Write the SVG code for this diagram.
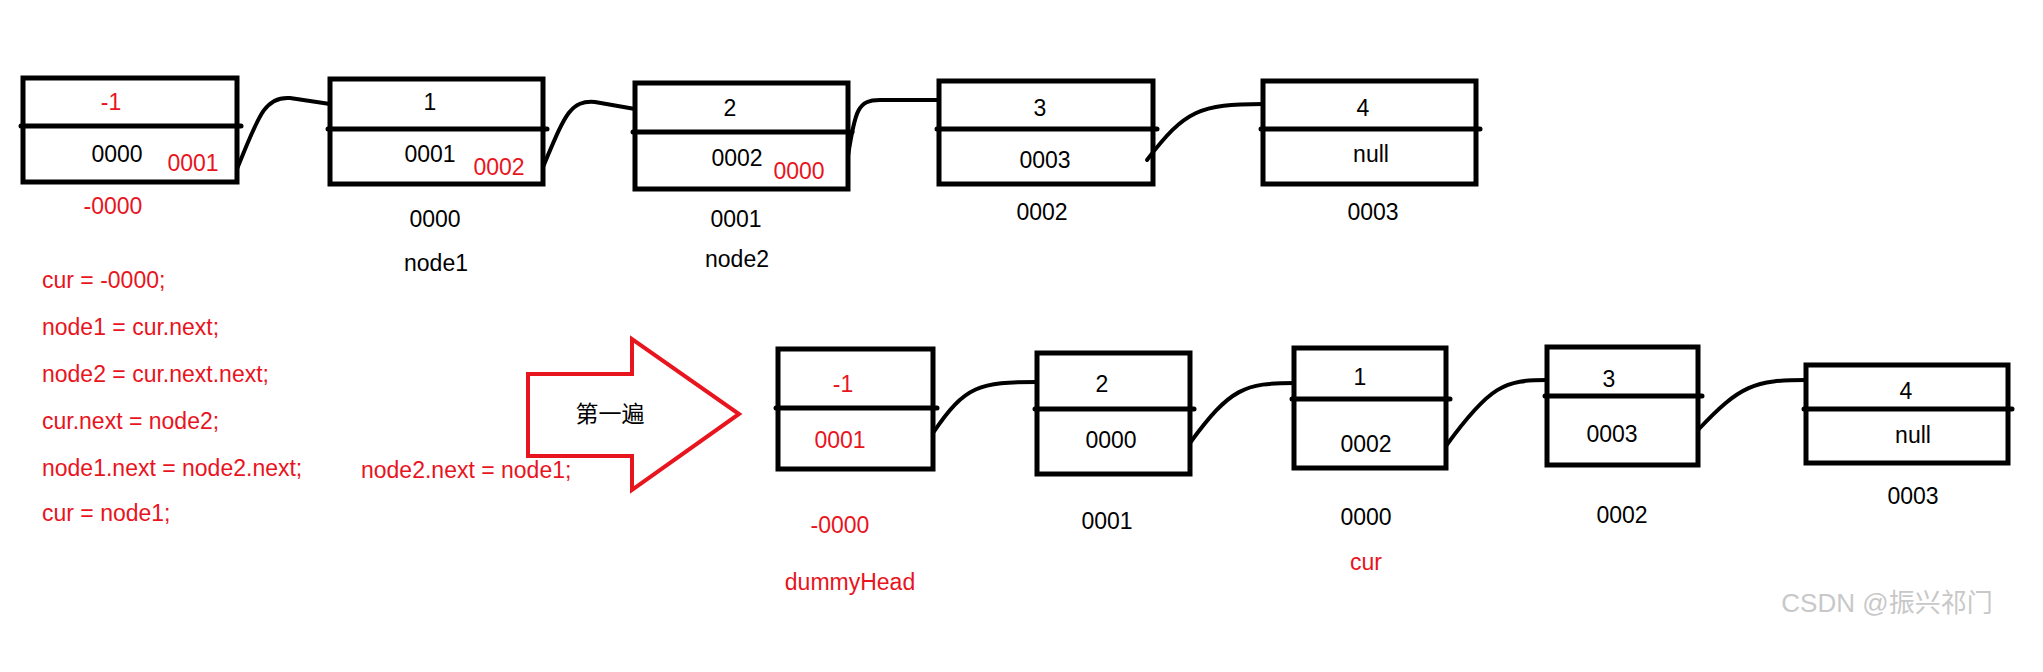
<svg xmlns="http://www.w3.org/2000/svg" width="2043" height="672" viewBox="0 0 2043 672">
<style>
.box{fill:none;stroke:#000;stroke-width:5}
.div{stroke:#000;stroke-width:5;stroke-linecap:round}
.c{fill:none;stroke:#000;stroke-width:4;stroke-linecap:round}
text{font-family:"Liberation Sans","Noto Sans CJK SC",sans-serif;font-size:23px;fill:#000;text-anchor:middle}
.r{fill:#e8141e}
.code{text-anchor:start;fill:#e8141e;font-size:23px}
</style>
<rect width="2043" height="672" fill="#fff"/>
<g id="connectors">
<path class="c" d="M237,169 C258,118 264,96 290,98 L330,104"/>
<path class="c" d="M543,167 C565,115 570,100 595,102 L635,109"/>
<path class="c" d="M848,156 C855,110 858,100 880,100 L939,100"/>
<path class="c" d="M1147,160 C1185,110 1200,104 1263,104"/>
<path class="c" d="M933,433 C965,385 980,382 1037,382"/>
<path class="c" d="M1190,443 C1230,388 1245,383 1294,383"/>
<path class="c" d="M1446,446 C1490,385 1505,380 1547,380"/>
<path class="c" d="M1698,430 C1740,385 1755,380 1806,380"/>
</g>
<g id="nodeA"><rect class="box" x="23" y="78" width="214" height="104"/><line class="div" x1="21" y1="126" x2="241" y2="126"/>
<text class="r" x="111" y="110">-1</text><text x="117" y="162">0000</text><text class="r" x="193" y="171">0001</text><text class="r" x="113" y="214">-0000</text></g>
<g id="nodeB"><rect class="box" x="330" y="79" width="213" height="105"/><line class="div" x1="328" y1="129" x2="547" y2="129"/>
<text x="430" y="110">1</text><text x="430" y="162">0001</text><text class="r" x="499" y="175">0002</text><text x="435" y="227">0000</text><text x="436" y="271">node1</text></g>
<g id="nodeC"><rect class="box" x="635" y="83" width="213" height="106"/><line class="div" x1="633" y1="132" x2="852" y2="132"/>
<text x="730" y="116">2</text><text x="737" y="166">0002</text><text class="r" x="799" y="179">0000</text><text x="736" y="227">0001</text><text x="737" y="267">node2</text></g>
<g id="nodeD"><rect class="box" x="939" y="81" width="214" height="103"/><line class="div" x1="937" y1="129" x2="1157" y2="129"/>
<text x="1040" y="116">3</text><text x="1045" y="168">0003</text><text x="1042" y="220">0002</text></g>
<g id="nodeE"><rect class="box" x="1263" y="81" width="213" height="103"/><line class="div" x1="1261" y1="129" x2="1480" y2="129"/>
<text x="1363" y="116">4</text><text x="1371" y="162">null</text><text x="1373" y="220">0003</text></g>
<g id="code">
<text class="code" x="42" y="288">cur = -0000;</text>
<text class="code" x="42" y="335">node1 = cur.next;</text>
<text class="code" x="42" y="382">node2 = cur.next.next;</text>
<text class="code" x="42" y="429">cur.next = node2;</text>
<text class="code" x="42" y="476">node1.next = node2.next;</text>
<text class="code" x="42" y="521">cur = node1;</text>
<text class="code" x="361" y="478">node2.next = node1;</text>
</g>
<g id="arrow"><polygon points="528,374 632,374 632,339 739,414 632,490 632,456 528,456" fill="#fff" stroke="#e8141e" stroke-width="4"/>
<text x="610" y="422">第一遍</text></g>
<g id="nodeF"><rect class="box" x="778" y="349" width="155" height="120"/><line class="div" x1="776" y1="408" x2="937" y2="408"/>
<text class="r" x="843" y="392">-1</text><text class="r" x="840" y="448">0001</text><text class="r" x="840" y="533">-0000</text><text class="r" x="850" y="590">dummyHead</text></g>
<g id="nodeG"><rect class="box" x="1037" y="353" width="153" height="121"/><line class="div" x1="1035" y1="409" x2="1194" y2="409"/>
<text x="1102" y="392">2</text><text x="1111" y="448">0000</text><text x="1107" y="529">0001</text></g>
<g id="nodeH"><rect class="box" x="1294" y="348" width="152" height="120"/><line class="div" x1="1292" y1="399" x2="1450" y2="399"/>
<text x="1360" y="385">1</text><text x="1366" y="452">0002</text><text x="1366" y="525">0000</text><text class="r" x="1366" y="570">cur</text></g>
<g id="nodeI"><rect class="box" x="1547" y="347" width="151" height="118"/><line class="div" x1="1545" y1="396" x2="1702" y2="396"/>
<text x="1609" y="387">3</text><text x="1612" y="442">0003</text><text x="1622" y="523">0002</text></g>
<g id="nodeJ"><rect class="box" x="1806" y="365" width="202" height="98"/><line class="div" x1="1804" y1="409" x2="2012" y2="409"/>
<text x="1906" y="399">4</text><text x="1913" y="443">null</text><text x="1913" y="504">0003</text></g>
<text x="1887" y="612" style="fill:#c8c8c8;font-size:26px">CSDN @振兴祁门</text>
</svg>
